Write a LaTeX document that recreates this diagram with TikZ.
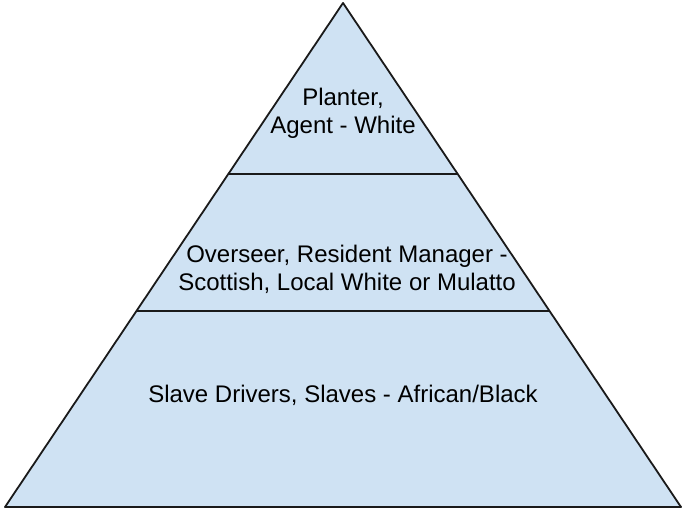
\documentclass[tikz,border=0pt]{standalone}
\usepackage{fontspec}
\setmainfont{Liberation Sans}
\usetikzlibrary{calc}
\definecolor{tierfill}{HTML}{CFE2F3}
\definecolor{edgecol}{HTML}{1A1A1A}
\begin{document}
\begin{tikzpicture}[x=1pt,y=-1pt,
  edge/.style={draw=edgecol,line width=1.8pt,line join=round},
  label/.style={font=\fontsize{24}{28}\selectfont,align=center,text=black,inner sep=0pt}]
\useasboundingbox (0,0) rectangle (685,511);
\coordinate (apex) at (343,3);
\coordinate (bl) at (5,507);
\coordinate (br) at (681,507);
\coordinate (l1) at ($(apex)!{171/504}!(bl)$);
\coordinate (r1) at ($(apex)!{171/504}!(br)$);
\coordinate (l2) at ($(apex)!{308/504}!(bl)$);
\coordinate (r2) at ($(apex)!{308/504}!(br)$);
\fill[tierfill] (apex) -- (bl) -- (br) -- cycle;
\draw[edge] (l1) -- (r1);
\draw[edge] (l2) -- (r2);
\draw[edge] (apex) -- (bl) -- (br) -- cycle;
\node[label,anchor=base] (top) at (343,133) {Planter,\\Agent - White};
\node[label,anchor=base] (mid) at (347,290) {Overseer, Resident Manager -\\Scottish, Local White or Mulatto};
\node[label,anchor=base] (bot) at (343,402) {Slave Drivers, Slaves - African/Black};
\end{tikzpicture}
\end{document}
